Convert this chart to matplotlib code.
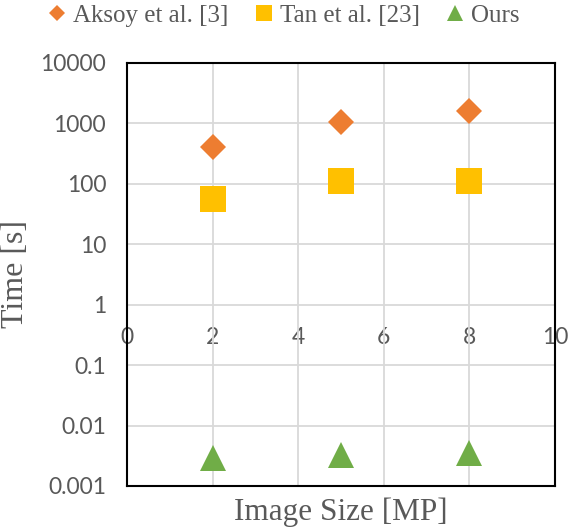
import matplotlib.pyplot as plt
from matplotlib.ticker import FixedLocator, FuncFormatter

# image size [MP] and run time [s]
sizes = [2, 5, 8]
aksoy = [414, 1067, 1625]
tan = [56, 111, 110]
ours = [0.00295, 0.00322, 0.00352]

x_ticks = [0, 2, 4, 6, 8, 10]
y_ticks = [0.001, 0.01, 0.1, 1, 10, 100, 1000, 10000]

grey = '#595959'
sans = ['Lato', 'DejaVu Sans']
serif = ['Liberation Serif', 'DejaVu Serif']

fig = plt.figure(figsize=(5.68, 5.27), dpi=100)
ax = fig.add_axes([0.2236, 0.0778, 0.7535, 0.8027])

ax.plot(sizes, aksoy, 'D', color='#ED7D31', markersize=13.2, markeredgewidth=0,
        label='Aksoy et al. [3]', zorder=3)
ax.plot(sizes, tan, 's', color='#FFC000', markersize=19.4, markeredgewidth=0,
        label='Tan et al. [23]', zorder=3)
ax.plot(sizes, ours, '^', color='#70AD47', markersize=19.4, markeredgewidth=0,
        label='Ours', zorder=3)

ax.set_yscale('log')
ax.set_xlim(0, 10)
ax.set_ylim(0.001, 10000)
ax.yaxis.set_major_locator(FixedLocator(y_ticks))
ax.yaxis.set_minor_locator(FixedLocator([]))
ax.yaxis.set_major_formatter(FuncFormatter(lambda v, p: '{:g}'.format(v)))
ax.set_xticks(x_ticks)
ax.tick_params(axis='x', labelbottom=False, length=0)
ax.tick_params(axis='y', length=0, pad=15, labelsize=16.5, labelcolor=grey)
for lbl in ax.get_yticklabels():
    lbl.set_family(sans)

ax.grid(True, color='#D9D9D9', linewidth=1.3)
ax.set_axisbelow(True)
for sp in ax.spines.values():
    sp.set_color('black')
    sp.set_linewidth(1.5)

# x axis crosses at y = 1, labels hang below it
sec = ax.secondary_xaxis(1, transform=ax.transData)
sec.set_xticks(x_ticks)
for sp in sec.spines.values():
    sp.set_visible(False)
sec.tick_params(axis='x', length=0, pad=16, labelsize=16.5, labelcolor=grey,
                bottom=True, top=False, labelbottom=True, labeltop=False)
for lbl in sec.get_xticklabels():
    lbl.set_family(sans)

ax.set_xlabel('Image Size [MP]', family=serif, fontsize=22.5, color=grey, labelpad=8)
ax.set_ylabel('Time [s]', family=serif, fontsize=23, color=grey)
ax.yaxis.set_label_coords(-0.226, 0.5)

leg = fig.legend(loc='center', bbox_to_anchor=(0.497, 0.97), ncol=3, frameon=False,
                 prop={'family': serif, 'size': 18}, markerscale=0.6,
                 handletextpad=0.15, columnspacing=0.9, handlelength=1.0)
for t in leg.get_texts():
    t.set_color(grey)

fig.savefig('out.png', dpi=100)
